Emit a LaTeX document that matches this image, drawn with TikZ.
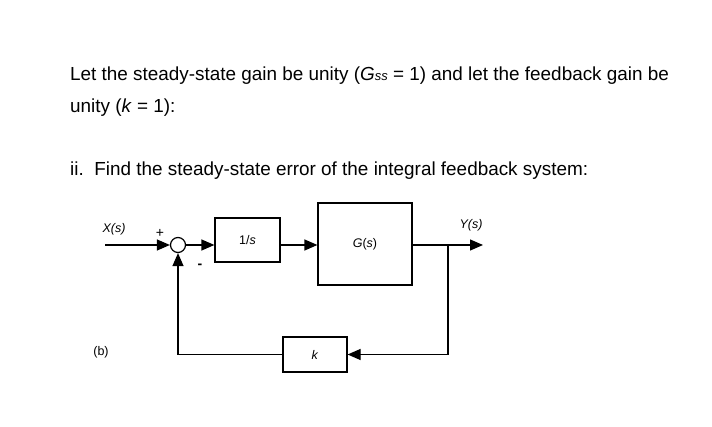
\documentclass[tikz,border=0pt]{standalone}
\usepackage{fontspec}
\setmainfont{Liberation Sans}
\usetikzlibrary{arrows.meta}
\begin{document}
\begin{tikzpicture}[x=1pt,y=-1pt,
  blk/.style={draw,line width=1.2pt,inner sep=0pt},
  ln/.style={line width=1.2pt},
  arr/.style={ln,-{Triangle[length=13pt,width=11pt]}},
  lbl/.style={font=\fontsize{12.5}{13}\selectfont\itshape},
  txt/.style={anchor=base west,inner sep=0pt,font=\fontsize{18.9}{20}\selectfont}]
\useasboundingbox (0,0) rectangle (712,427);
\node[txt] (t1) at (70,81) {Let the steady-state gain be unity (\textit{G}{\fontsize{13}{14}\selectfont\itshape ss} = 1) and let the feedback gain be};
\node[txt] (t2) at (70,113) {unity (\textit{k} = 1):};
\node[txt] (t3) at (70,176) {ii.\ \ Find the steady-state error of the integral feedback system:};
\node[draw,circle,line width=1.2pt,minimum size=15pt,inner sep=0pt] (sum) at (178,245) {};
\node[blk,minimum width=65pt,minimum height=44pt] (b1) at (247.5,240) {\fontsize{12.5}{13}\selectfont 1/\textit{s}};
\node[blk,minimum width=94pt,minimum height=82pt] (g) at (365,244) {\fontsize{12.5}{13}\selectfont\textit{G}(\textit{s})};
\node[blk,minimum width=64pt,minimum height=35pt] (k) at (315,354.5) {\fontsize{12.5}{13}\selectfont\textit{k}};
\coordinate (in) at (105,245);
\coordinate (out) at (483,245);
\coordinate (br) at (448,245);
\coordinate (bk) at (448,354.5);
\coordinate (lf) at (178,354.5);
\draw[arr] (in) -- (sum);
\draw[arr] (sum) -- (b1.west |- sum);
\draw[arr] (b1.east |- sum) -- (g.west |- sum);
\draw[arr] (g.east |- sum) -- (out);
\draw[arr] (br) -- (bk) -- (k.east);
\draw[arr] (k.west) -- (lf) -- (sum.south);
\node[lbl] (xs) at (114,229) {X(s)};
\node[lbl] (ys) at (471,225) {Y(s)};
\node[font=\fontsize{14}{14}\selectfont] (pl) at (160,233) {+};
\node[font=\fontsize{14}{14}\selectfont\bfseries] (mi) at (200,266) {-};
\node[font=\fontsize{12.5}{13}\selectfont] (bb) at (101,352) {(b)};
\end{tikzpicture}
\end{document}
